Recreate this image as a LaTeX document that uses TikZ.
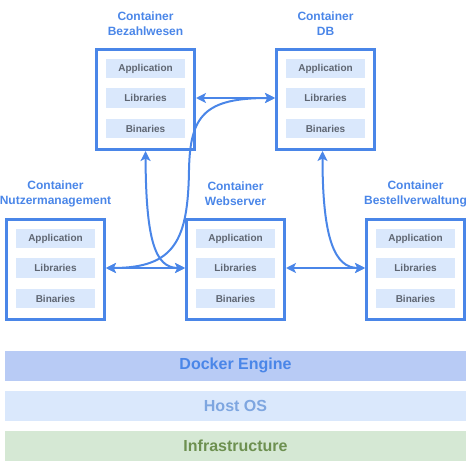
\documentclass[tikz,border=0pt]{standalone}
\usepackage{fontspec}
\setmainfont{Liberation Sans}
\usetikzlibrary{arrows.meta,calc}
\definecolor{cblue}{HTML}{4A86E8}
\definecolor{barfill}{HTML}{DAE8FC}
\definecolor{bartext}{HTML}{5F6672}
\definecolor{dockfill}{HTML}{B8CBF5}
\definecolor{hostfill}{HTML}{DAE8FC}
\definecolor{hosttext}{HTML}{7EA6E0}
\definecolor{infrafill}{HTML}{D5E8D4}
\definecolor{infratext}{HTML}{6D9050}
\tikzset{
  cbox/.style={draw=cblue, line width=3pt, minimum width=98pt, minimum height=100pt, inner sep=0pt},
  bar/.style={fill=barfill, minimum width=79pt, minimum height=19.5pt, inner sep=0pt, text=bartext, font=\fontsize{10}{12}\selectfont\bfseries},
  ctitle/.style={text=cblue, align=center, inner sep=0pt, font=\fontsize{12}{15}\selectfont\bfseries},
  layer/.style={minimum width=461pt, minimum height=30pt, inner sep=0pt, font=\fontsize{16}{19}\selectfont\bfseries},
  conn/.style={draw=cblue, line width=2pt, {Stealth[length=10pt,width=10pt,inset=2.5pt]}-{Stealth[length=10pt,width=10pt,inset=2.5pt]}}
}
\newcommand{\container}[4]{% name, x, y, title
  \node[cbox] (#1) at (#2,#3) {};
  \node[bar] (#1-app) at ($(#1)+(0,-31)$) {Application};
  \node[bar] (#1-lib) at ($(#1)+(0,-1.5)$) {Libraries};
  \node[bar] (#1-bin) at ($(#1)+(0,29)$) {Binaries};
  \node[ctitle] (#1-title) at ($(#1)+(0,-75.5)$) {#4};
}
\begin{document}
\begin{tikzpicture}[x=1pt,y=-1pt]
\useasboundingbox (0,0) rectangle (468,462);
\container{bez}{145.5}{99.5}{Container\\Bezahlwesen}
\container{db}{325.5}{99.5}{Container\\DB}
\container{nut}{55.5}{269.5}{Container\\Nutzermanagement}
\container{web}{235.5}{269.5}{Container\\Webserver}
\container{bes}{415.5}{269.5}{Container\\Bestellverwaltung}

\coordinate (dbbot) at ($(db.south)+(-3,0)$);

\draw[conn] (bez.east |- bez-lib) -- (db.west |- db-lib);
\draw[conn] (nut.east |- nut-lib) -- (web.west |- web-lib);
\draw[conn] (web.east |- web-lib) -- (bes.west |- bes-lib);
\draw[conn] (db.west |- db-lib) .. controls (205,98) and (190,115) .. (189,170) .. controls (188,240) and (175,268) .. (nut.east |- nut-lib);
\draw[conn] (bez.south) .. controls (146,240) and (155,268) .. (web.west |- web-lib);
\draw[conn] (dbbot) .. controls (322.5,240) and (335,268) .. (bes.west |- bes-lib);

\node[layer, fill=dockfill, text=cblue] (docker) at (235.5,365.5) {Docker Engine};
\node[layer, fill=hostfill, text=hosttext] (host) at (235.5,405.5) {Host OS};
\node[layer, fill=infrafill, text=infratext] (infra) at (235.5,445.5) {Infrastructure};
\end{tikzpicture}
\end{document}
